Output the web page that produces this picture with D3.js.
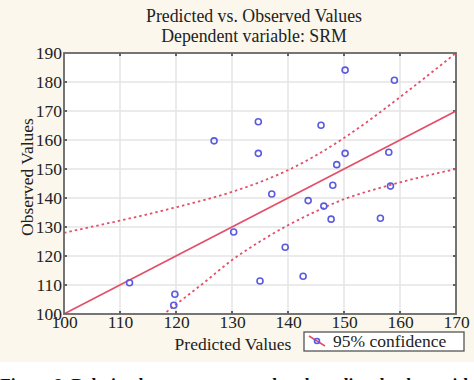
<!DOCTYPE html>
<html><head><meta charset="utf-8">
<script src="https://cdn.jsdelivr.net/npm/d3@7"></script>
<style>body{margin:0;background:#fff;}svg{display:block;}</style>
</head><body>
<script>
// Data
const predicted = [126.8,134.7,134.7,150.2,159.0,145.9,150.2,158.0,148.7,148.0,158.3,137.1,143.6,146.4,147.7,156.5,139.5,142.7,135.0,111.7,130.3,119.8,119.6];
const observed  = [159.7,166.3,155.4,184.1,180.6,165.1,155.4,155.8,151.5,144.4,144.1,141.4,139.1,137.2,132.7,133.0,123.0,113.0,111.4,110.8,128.3,106.8,103.0];
const fitX = [100,170];
const fitY = [100,170];
const bandX     = [100,105,110,115,120,125,130,135,140,145,150,155,160,165,170];
const bandUpper = [128.0,130.1,132.2,134.4,136.8,139.3,142.1,145.5,149.6,154.7,160.7,167.5,174.8,182.3,190.0];
const bandLower = [72.0,79.9,87.8,95.6,103.3,110.8,118.6,125.0,130.6,135.4,139.6,142.7,145.4,147.8,150.0];
const xTicks = [100,110,120,130,140,150,160,170];
const yTicks = [100,110,120,130,140,150,160,170,180,190];
const titleLines = ["Predicted vs. Observed Values","Dependent variable: SRM"];
const xLabel = "Predicted Values", yLabel = "Observed Values", legendLabel = "95% confidence";
const caption = "Figure 8. Relation between measured and predicted values with";

const W=474,H=380;
const L=64,R=456,T=53,B=314;
const red="#e2506a", blue="#5a5ae0", font="'Liberation Serif','Times New Roman',serif";
const svg=d3.select("body").append("svg").attr("width",W).attr("height",H);
svg.append("rect").attr("width",W).attr("height",H).attr("fill","#fff");
svg.append("rect").attr("width",W).attr("height",362).attr("fill","#fbf7ec");

const x=d3.scaleLinear().domain([100,170]).range([L,R]);
const y=d3.scaleLinear().domain([100,190]).range([B,T]);

svg.append("rect").attr("x",L).attr("y",T).attr("width",R-L).attr("height",B-T).attr("fill","#fff");
svg.append("defs").append("clipPath").attr("id","clip").append("rect").attr("x",L).attr("y",T).attr("width",R-L).attr("height",B-T);

// grid
const g=svg.append("g");
g.selectAll(".gx").data(xTicks.slice(1,-1)).join("line").attr("x1",d=>x(d)).attr("x2",d=>x(d)).attr("y1",T).attr("y2",B).attr("stroke","#e4e4e4").attr("stroke-width",1.5);
g.selectAll(".gy").data(yTicks.slice(1,-1)).join("line").attr("y1",d=>y(d)).attr("y2",d=>y(d)).attr("x1",L).attr("x2",R).attr("stroke","#e4e4e4").attr("stroke-width",1.5);

// axes (ticks inward)
const ax=svg.append("g").attr("transform",`translate(0,${B})`).call(d3.axisBottom(x).tickValues(xTicks).tickSize(0).tickPadding(3));
const ay=svg.append("g").attr("transform",`translate(${L},0)`).call(d3.axisLeft(y).tickValues(yTicks).tickSize(0).tickPadding(2));
[ax,ay].forEach(a=>{a.select(".domain").remove();a.selectAll("text").attr("font-family",font).attr("font-size",17.5).attr("fill","#222");});
ax.selectAll("text").attr("dy","0.62em");
// inner tick marks
const tk=svg.append("g").attr("stroke","#333").attr("stroke-width",1.5);
tk.selectAll(".tt").data(xTicks.slice(1,-1)).join("line").attr("x1",d=>x(d)).attr("x2",d=>x(d)).attr("y1",T).attr("y2",T+3);
tk.selectAll(".tb").data(xTicks.slice(1,-1)).join("line").attr("x1",d=>x(d)).attr("x2",d=>x(d)).attr("y1",B).attr("y2",B-3);
tk.selectAll(".tl").data(yTicks.slice(1,-1)).join("line").attr("y1",d=>y(d)).attr("y2",d=>y(d)).attr("x1",L).attr("x2",L+3);
tk.selectAll(".tr").data(yTicks.slice(1,-1)).join("line").attr("y1",d=>y(d)).attr("y2",d=>y(d)).attr("x1",R).attr("x2",R-3);

const plot=svg.append("g").attr("clip-path","url(#clip)");
const line=d3.line().x(d=>x(d[0])).y(d=>y(d[1]));
const curve=d3.line().curve(d3.curveMonotoneX).x(d=>x(d[0])).y(d=>y(d[1]));
plot.append("path").attr("fill","none").attr("stroke",red).attr("stroke-width",1.8).attr("stroke-dasharray","2.5,3").attr("d",curve(d3.zip(bandX,bandUpper)));
plot.append("path").attr("fill","none").attr("stroke",red).attr("stroke-width",1.8).attr("stroke-dasharray","2.5,3").attr("d",curve(d3.zip(bandX,bandLower)));
plot.append("path").attr("fill","none").attr("stroke",red).attr("stroke-width",1.6).attr("d",line(d3.zip(fitX,fitY)));
plot.selectAll("circle").data(d3.zip(predicted,observed)).join("circle").attr("cx",d=>x(d[0])).attr("cy",d=>y(d[1])).attr("r",3).attr("fill","none").attr("stroke",blue).attr("stroke-width",1.6);

// border
svg.append("rect").attr("x",L).attr("y",T).attr("width",R-L).attr("height",B-T).attr("fill","none").attr("stroke","#666").attr("stroke-width",1.8);

// titles
svg.selectAll(".title").data(titleLines).join("text").attr("x",254).attr("y",(d,i)=>22+i*20).attr("text-anchor","middle").attr("font-family",font).attr("font-size",17.8).attr("fill","#222").text(d=>d);
svg.append("text").attr("x",233).attr("y",350).attr("text-anchor","middle").attr("font-family",font).attr("font-size",17.5).attr("fill","#222").text(xLabel);
svg.append("text").attr("transform","translate(33,177) rotate(-90)").attr("text-anchor","middle").attr("font-family",font).attr("font-size",17.5).attr("fill","#222").text(yLabel);

// legend
const lg=svg.append("g");
lg.append("rect").attr("x",304).attr("y",332).attr("width",160).attr("height",19).attr("fill","#fff").attr("stroke","#555").attr("stroke-width",1.3);
lg.append("line").attr("x1",309).attr("y1",336).attr("x2",325).attr("y2",346).attr("stroke",red).attr("stroke-width",1.6);
lg.append("circle").attr("cx",317).attr("cy",341).attr("r",2.5).attr("fill","none").attr("stroke",blue).attr("stroke-width",1.6);
lg.append("text").attr("x",333).attr("y",347).attr("font-family",font).attr("font-size",17.5).attr("fill","#222").text(legendLabel);

// caption (cut off at bottom, as in the reference)
svg.append("text").attr("x",0).attr("y",390).attr("font-family",font).attr("font-weight","bold").attr("font-size",17.5).attr("fill","#111").text(caption);
</script>
</body></html>
